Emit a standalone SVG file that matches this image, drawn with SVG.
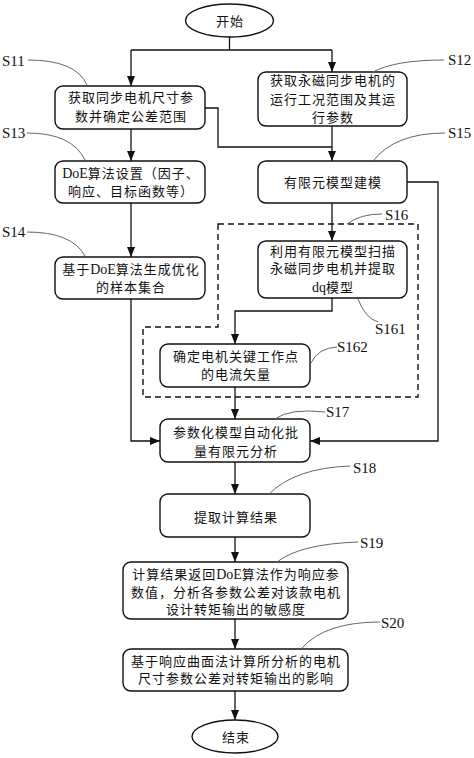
<svg xmlns="http://www.w3.org/2000/svg" width="474" height="758" viewBox="0 0 474 758">
<defs>
<marker id="ah" markerUnits="userSpaceOnUse" markerWidth="10" markerHeight="10" viewBox="0 0 10 10" refX="10" refY="5" orient="auto">
<path d="M0,1 L10,5 L0,9 Z" fill="#111"/>
</marker>
<style>
.box{fill:#fff;stroke:#111;stroke-width:1.4}
.t{font-family:"Liberation Serif","Noto Sans CJK SC",serif;font-size:13px;letter-spacing:1px;text-anchor:middle;fill:#111}
.lat{letter-spacing:0px;font-size:14px}
.lb{font-family:"Liberation Serif","Noto Sans CJK SC",serif;font-size:15px;fill:#111}
.ld{fill:none;stroke:#666;stroke-width:1}
.c{fill:none;stroke:#111;stroke-width:1.3}
.ca{fill:none;stroke:#111;stroke-width:1.3;marker-end:url(#ah)}
</style>
</defs>
<rect width="474" height="758" fill="#fff"/>

<g id="connectors">
<path class="c" d="M229.5,37 V50 M131,50 H332"/>
<path class="ca" d="M131,50 V86"/>
<path class="ca" d="M332,50 V72"/>
<path class="c" d="M205,108 H218 V147 H332"/>
<path class="ca" d="M332,126 V161"/>
<path class="ca" d="M131,129 V161"/>
<path class="ca" d="M131,203 V257"/>
<path class="ca" d="M332,203 V241"/>
<path class="ca" d="M407,182 H438 V441 H310"/>
<path class="ca" d="M131,299 V441 H160"/>
<path class="ca" d="M332,298 V311 H235 V344"/>
<path class="ca" d="M235,387 V419"/>
<path class="ca" d="M235,462 V494"/>
<path class="ca" d="M235,537 V562"/>
<path class="ca" d="M235,619 V649"/>
<path class="ca" d="M235,691 V720"/>
</g>

<g id="S16-group">
<path d="M218,224 H418 V397 H143 V327 H218 Z" fill="none" stroke="#111" stroke-width="1.4" stroke-dasharray="6,4"/>
</g>

<g id="start">
<ellipse cx="229.5" cy="20.5" rx="44" ry="16.5" class="box"/>
<text class="t" x="230" y="25.5">开始</text>
</g>

<g id="S11">
<rect class="box" x="55" y="86" width="150" height="43" rx="8"/>
<text class="t" x="131" y="102">获取同步电机尺寸参</text>
<text class="t" x="131" y="121">数并确定公差范围</text>
</g>

<g id="S12">
<rect class="box" x="258" y="72" width="149" height="54" rx="8"/>
<text class="t" x="333" y="85">获取永磁同步电机的</text>
<text class="t" x="333" y="104">运行工况范围及其运</text>
<text class="t" x="333" y="122">行参数</text>
</g>

<g id="S13">
<rect class="box" x="55" y="161" width="150" height="42" rx="8"/>
<text class="t" x="131" y="178"><tspan class="lat">DoE</tspan>算法设置（因子、</text>
<text class="t" x="131" y="196">响应、目标函数等）</text>
</g>

<g id="S15">
<rect class="box" x="258" y="161" width="149" height="42" rx="8"/>
<text class="t" x="333" y="187">有限元模型建模</text>
</g>

<g id="S14">
<rect class="box" x="55" y="257" width="150" height="42" rx="8"/>
<text class="t" x="131" y="274">基于<tspan class="lat">DoE</tspan>算法生成优化</text>
<text class="t" x="131" y="292">的样本集合</text>
</g>

<g id="S161">
<rect class="box" x="258" y="241" width="149" height="57" rx="8"/>
<text class="t" x="333" y="256">利用有限元模型扫描</text>
<text class="t" x="333" y="273">永磁同步电机并提取</text>
<text class="t" x="333" y="292"><tspan class="lat">dq</tspan>模型</text>
</g>

<g id="S162">
<rect class="box" x="160" y="344" width="150" height="43" rx="8"/>
<text class="t" x="236" y="361">确定电机关键工作点</text>
<text class="t" x="236" y="379">的电流矢量</text>
</g>

<g id="S17">
<rect class="box" x="160" y="419" width="150" height="43" rx="8"/>
<text class="t" x="236" y="437">参数化模型自动化批</text>
<text class="t" x="236" y="456">量有限元分析</text>
</g>

<g id="S18">
<rect class="box" x="160" y="494" width="150" height="43" rx="8"/>
<text class="t" x="236" y="522">提取计算结果</text>
</g>

<g id="S19">
<rect class="box" x="123" y="562" width="225" height="57" rx="8"/>
<text class="t" x="236" y="579">计算结果返回<tspan class="lat">DoE</tspan>算法作为响应参</text>
<text class="t" x="236" y="597">数值，分析各参数公差对该款电机</text>
<text class="t" x="236" y="614">设计转矩输出的敏感度</text>
</g>

<g id="S20">
<rect class="box" x="123" y="649" width="225" height="42" rx="8"/>
<text class="t" x="236" y="666">基于响应曲面法计算所分析的电机</text>
<text class="t" x="236" y="683">尺寸参数公差对转矩输出的影响</text>
</g>

<g id="end">
<ellipse cx="235" cy="736.5" rx="43" ry="16.5" class="box"/>
<text class="t" x="236" y="741.5">结束</text>
</g>

<g id="labels">
<path class="ld" d="M28,60 Q76,60 87,85"/>
<path class="ld" d="M444,60 Q395,60 373,72"/>
<path class="ld" d="M27,133 Q72,133 85,160"/>
<path class="ld" d="M445,133 Q395,133 373,161"/>
<path class="ld" d="M27,232 Q72,232 85,256"/>
<path class="ld" d="M382,214 Q360,214 347,224"/>
<path class="ld" d="M358,299 Q365,318 378,322"/>
<path class="ld" d="M337,347 Q318,348 311,363"/>
<path class="ld" d="M325,412 Q290,408 275,419"/>
<path class="ld" d="M350,466 Q295,468 269,494"/>
<path class="ld" d="M358,542 Q300,544 277,562"/>
<path class="ld" d="M380,622 Q325,622 302,648"/>
<text class="lb" x="2" y="66">S11</text>
<text class="lb" x="448" y="65">S12</text>
<text class="lb" x="2" y="138">S13</text>
<text class="lb" x="448" y="138">S15</text>
<text class="lb" x="2" y="237">S14</text>
<text class="lb" x="385" y="220">S16</text>
<text class="lb" x="375" y="334">S161</text>
<text class="lb" x="337" y="352">S162</text>
<text class="lb" x="326" y="417">S17</text>
<text class="lb" x="353" y="473">S18</text>
<text class="lb" x="360" y="548">S19</text>
<text class="lb" x="381" y="628">S20</text>
</g>
</svg>
